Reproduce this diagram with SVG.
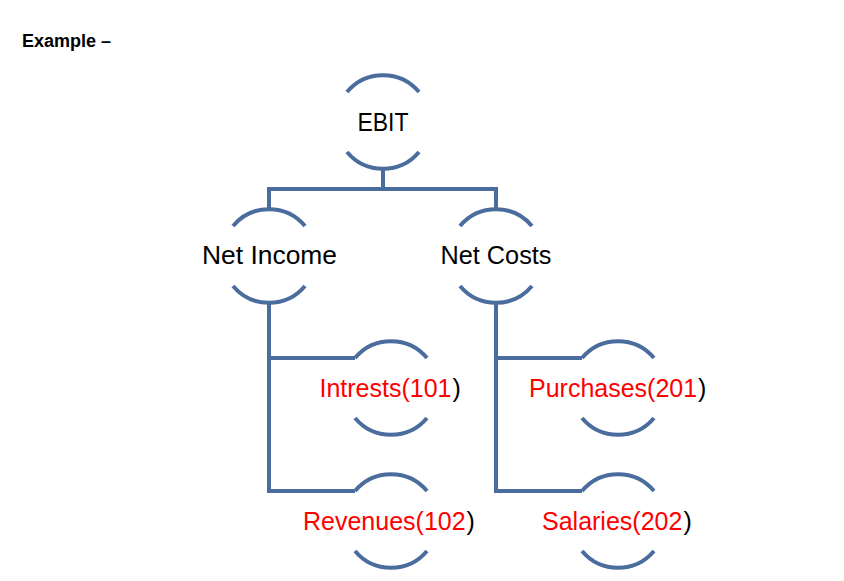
<svg xmlns="http://www.w3.org/2000/svg" width="844" height="581" viewBox="0 0 844 581">
<style>
.arc{fill:none;stroke:#4a6d9e;stroke-width:4}
.ln{fill:none;stroke:#4a6d9e;stroke-width:4;stroke-linejoin:miter}
.lbl{font-family:"Liberation Sans",Arial,sans-serif;font-size:26px;text-anchor:middle}
.lft{font-family:"Liberation Sans",Arial,sans-serif;font-size:25px;text-anchor:start}
.blk{fill:#000}
.red{fill:#ff0000}
.title{font-family:"Liberation Sans",Arial,sans-serif;font-size:18px;font-weight:bold;fill:#000}
</style>
<rect width="844" height="581" fill="#fff"/>
<text class="title" x="22" y="47">Example –</text>
<g id="connectors">
<path class="ln" d="M383 169 V189 M269 209 V189 H496 V209"/>
<path class="ln" d="M269 303 V491 H355 M269 358 H355"/>
<path class="ln" d="M496 303 V491 H582 M496 358 H582"/>
</g>
<g id="ebit">
<path class="arc" d="M347 92 A47 47 0 0 1 419 92 M347 152 A47 47 0 0 0 419 152"/>
<text class="lbl blk" x="383" y="131" textLength="51" lengthAdjust="spacingAndGlyphs">EBIT</text>
</g>
<g id="net-income">
<path class="arc" d="M233 226 A47 47 0 0 1 305 226 M233 286 A47 47 0 0 0 305 286"/>
<text class="lbl blk" x="269.5" y="264" textLength="135" lengthAdjust="spacingAndGlyphs">Net Income</text>
</g>
<g id="net-costs">
<path class="arc" d="M460 226 A47 47 0 0 1 532 226 M460 286 A47 47 0 0 0 532 286"/>
<text class="lbl blk" x="496" y="264" textLength="111" lengthAdjust="spacingAndGlyphs">Net Costs</text>
</g>
<g id="intrests">
<path class="arc" d="M355 358 A47 47 0 0 1 427 358 M355 418 A47 47 0 0 0 427 418"/>
<text class="lft red" x="319.5" y="397">Intrests(101</text>
<text class="lft blk" x="452.5" y="397">)</text>
</g>
<g id="revenues">
<path class="arc" d="M355 491 A47 47 0 0 1 427 491 M355 551 A47 47 0 0 0 427 551"/>
<text class="lft red" x="303" y="530">Revenues(102</text>
<text class="lft blk" x="466.5" y="530">)</text>
</g>
<g id="purchases">
<path class="arc" d="M582 358 A47 47 0 0 1 654 358 M582 418 A47 47 0 0 0 654 418"/>
<text class="lft red" x="529" y="397">Purchases(201</text>
<text class="lft blk" x="698" y="397">)</text>
</g>
<g id="salaries">
<path class="arc" d="M582 491 A47 47 0 0 1 654 491 M582 551 A47 47 0 0 0 654 551"/>
<text class="lft red" x="542" y="530">Salaries(202</text>
<text class="lft blk" x="683.5" y="530">)</text>
</g>
</svg>
